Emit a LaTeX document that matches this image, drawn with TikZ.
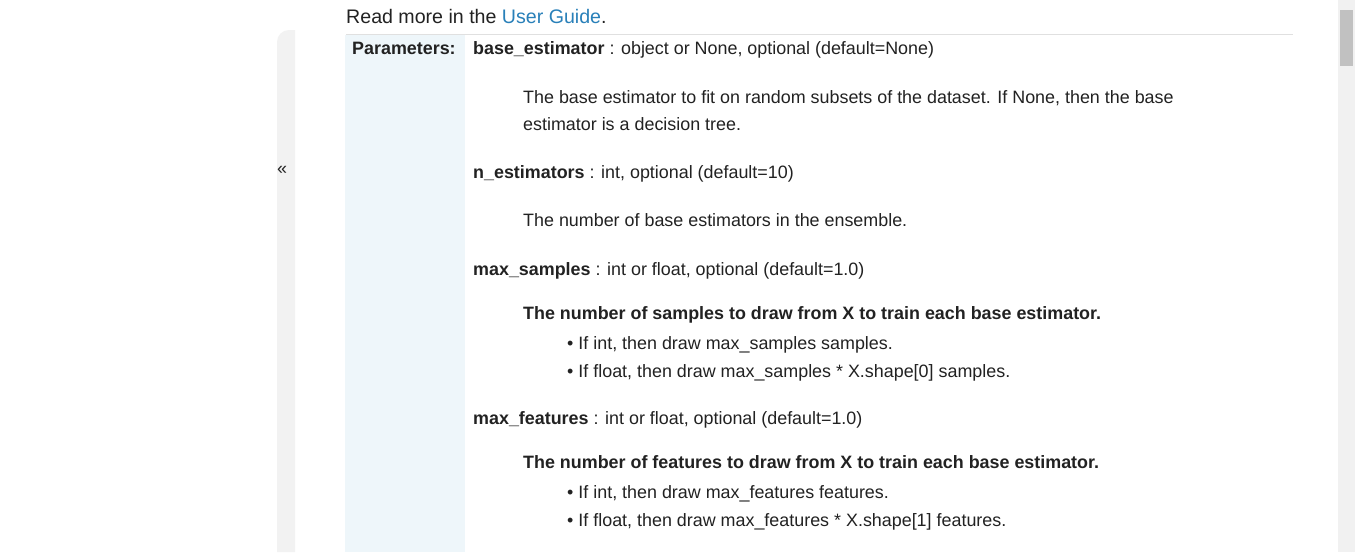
\documentclass[tikz,border=0pt]{standalone}
\usepackage{fontspec}
\setmainfont{Liberation Sans}
\definecolor{txt}{HTML}{222222}
\definecolor{lnk}{HTML}{2980B9}
\definecolor{side}{HTML}{F2F2F2}
\definecolor{pcell}{HTML}{EEF6FA}
\definecolor{sbar}{HTML}{F1F1F1}
\definecolor{thumb}{HTML}{C1C1C1}
\begin{document}
\begin{tikzpicture}[x=1pt,y=-1pt,
  t/.style={anchor=base west,inner sep=0pt,text=txt,font=\fontsize{17.9}{21}\selectfont}]
\useasboundingbox (0,0) rectangle (1355,552);
\fill[white] (0,0) rectangle (1355,552);
% side bar
\fill[side] (277,552) [rounded corners=12pt] -- (277,30) [sharp corners] -- (295,30) -- (295,552) -- cycle;
\node[t] (ch) at (277,174) {«};
% param cell
\fill[pcell] (345,35) rectangle (465,552);
\draw[black!12] (346,34.5) -- (1293,34.5);
% scrollbar
\fill[sbar] (1338,0) rectangle (1355,552);
\fill[thumb] (1340,10) rectangle (1353,66);
% texts
\node[t,font=\fontsize{19.6}{22}\selectfont] (rm) at (346,23) {Read more in the \textcolor{lnk}{User Guide}.};
\node[t] (pl) at (352,54) {\bfseries Parameters:};
\node[t] (p1) at (473,54) {\textbf{base\_estimator} : object or None, optional (default=None)};
\node[t] (d1a) at (523,103) {The base estimator to fit on random subsets of the dataset. If None, then the base};
\node[t] (d1b) at (523,130) {estimator is a decision tree.};
\node[t] (p2) at (473,178) {\textbf{n\_estimators} : int, optional (default=10)};
\node[t] (d2) at (523,226) {The number of base estimators in the ensemble.};
\node[t] (p3) at (473,275) {\textbf{max\_samples} : int or float, optional (default=1.0)};
\node[t] (d3) at (523,319) {\bfseries The number of samples to draw from X to train each base estimator.};
\node[t] (b3a) at (567,349) {•\hspace{5pt}If int, then draw max\_samples samples.};
\node[t] (b3b) at (567,377) {•\hspace{5pt}If float, then draw max\_samples * X.shape[0] samples.};
\node[t] (p4) at (473,424) {\textbf{max\_features} : int or float, optional (default=1.0)};
\node[t] (d4) at (523,468) {\bfseries The number of features to draw from X to train each base estimator.};
\node[t] (b4a) at (567,498) {•\hspace{5pt}If int, then draw max\_features features.};
\node[t] (b4b) at (567,526) {•\hspace{5pt}If float, then draw max\_features * X.shape[1] features.};
\end{tikzpicture}
\end{document}
